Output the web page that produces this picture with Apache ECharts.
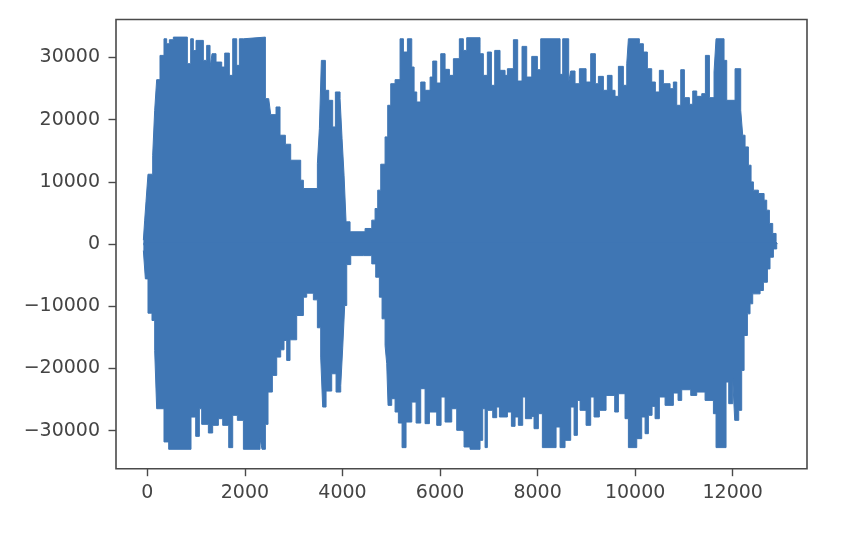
<!DOCTYPE html>
<html><head><meta charset="utf-8">
<style>html,body{margin:0;padding:0;background:#fff}#c{width:852px;height:536px;filter:blur(0.45px)}</style>
<script src="https://cdn.jsdelivr.net/npm/echarts@6/dist/echarts.min.js"></script>
</head><body><div id="c"></div>
<script>
const upperX=[-83,-56,-29,12,108,149,190,258,340,395,450,532,819,887,942,997,1147,1215,1284,1325,1407,1523,1585,1680,1749,1831,1885,1968,2419,2487,2528,2637,2719,2829,2938,3143,3198,3485,3526,3567,3649,3717,3799,3854,3950,3991,4032,4073,4155,4463,4600,4668,4722,4784,4873,4927,4989,5078,5180,5249,5331,5420,5468,5522,5604,5693,5796,5850,5932,6014,6103,6192,6274,6396,6478,6547,6820,6888,6970,7053,7121,7230,7333,7381,7504,7592,7681,7777,7880,7996,8064,8461,8515,8638,8679,8768,8857,8994,9089,9185,9247,9349,9431,9527,9588,9657,9759,9828,9862,10087,10169,10251,10340,10415,10497,10579,10716,10784,10853,10935,11010,11113,11181,11263,11366,11441,11523,11618,11659,11823,11878,12049,12165,12206,12254,12322,12377,12425,12527,12644,12698,12753,12821,12890,12917];
const upperY=[640,3850,6790,11230,14280,21500,26430,30330,33000,32200,32850,33270,29000,33000,31100,32740,29530,31940,28460,30600,29260,28460,30700,27120,33000,28730,33000,33270,23380,23110,20810,22040,17500,16050,13480,10270,8930,12940,18560,29530,24720,23110,18830,24450,23380,16960,11070,3580,1980,2510,3850,5720,8670,12840,17230,22310,25780,26430,33000,30870,33000,28460,24450,22840,26050,24720,26850,29420,25890,30600,28090,27120,29800,33000,31130,33170,30600,27120,30870,25520,31130,27930,27120,28190,32850,26210,31780,26850,30170,28030,33000,27280,33000,26050,27820,25780,28190,26050,30600,25780,26960,24720,27120,24720,23750,28570,25520,28990,33000,32200,30870,28190,26050,24450,27930,25780,24980,26050,22310,28030,23540,22470,24610,23750,24180,30330,23540,27660,33000,29530,23110,28190,21500,17500,15620,12680,10000,8670,8130,7060,5450,3320,1710,370,0];
const lowerX=[-83,-42,12,94,149,190,340,436,894,990,1065,1113,1250,1338,1455,1544,1667,1749,1844,1968,2309,2350,2419,2473,2562,2651,2733,2801,2856,2924,3061,3198,3266,3403,3485,3553,3594,3663,3779,3868,3964,4005,4045,4087,4169,4428,4600,4681,4756,4811,4873,4907,4934,5009,5078,5146,5221,5303,5420,5509,5604,5693,5782,5932,6021,6103,6240,6342,6444,6492,6615,6820,6875,6923,6970,7080,7162,7217,7381,7463,7538,7606,7695,7750,7880,7927,8016,8098,8379,8461,8563,8679,8748,8816,8871,8994,9089,9158,9267,9404,9581,9657,9793,9862,10033,10135,10204,10272,10347,10409,10497,10614,10784,10880,10955,11140,11263,11434,11605,11659,11864,11919,12001,12042,12124,12185,12234,12302,12356,12411,12562,12630,12712,12766,12835,12903];
const lowerY=[-1040,-5590,-11100,-12280,-17090,-26460,-31800,-32980,-27800,-30900,-26460,-28970,-30360,-29130,-28060,-29130,-32715,-27520,-28330,-32980,-31270,-32980,-28970,-23780,-21100,-18160,-16990,-15490,-18700,-15380,-11480,-8530,-7890,-8960,-13450,-18160,-26190,-23620,-20840,-23780,-22710,-16560,-9870,-3290,-1850,-1850,-3180,-5320,-8530,-12010,-16290,-19230,-25920,-24850,-26990,-28760,-32715,-28600,-25390,-28760,-23240,-28860,-26990,-29130,-24580,-28600,-26460,-29930,-30040,-32610,-32980,-31540,-26460,-32710,-26720,-27900,-26190,-27790,-26990,-29290,-27790,-29130,-24580,-28060,-27690,-29670,-27260,-32710,-29400,-32710,-31540,-26190,-30740,-25120,-26720,-29130,-24580,-27790,-26720,-24320,-26990,-24050,-28060,-32710,-31270,-27790,-30470,-27520,-26080,-28060,-24580,-25920,-23940,-25120,-23410,-24320,-23780,-25120,-27260,-32710,-22170,-25650,-21640,-28330,-26720,-20300,-14690,-11210,-9600,-8000,-7460,-6130,-3990,-2110,-780,0];
const xTicks=[0,2000,4000,6000,8000,10000,12000];
const yTicks=[-30000,-20000,-10000,0,10000,20000,30000];
const xRange=[-644,13524];
const yRange=[-36100,36100];

const pairs=(xs,ys)=>xs.map((x,i)=>[x,ys[i]]);
const BLUE='#3f76b4', INK='#444', FRAME='#4a4a4a';
const mk=(xs,ys,origin)=>({type:'line',step:'end',data:pairs(xs,ys),showSymbol:false,silent:true,animation:false,
  lineStyle:{color:BLUE,width:1},areaStyle:{color:BLUE,opacity:1,origin:origin}});
const axisCommon=(t,margin)=>({
  axisLine:{show:false,onZero:false},splitLine:{show:false},
  axisTick:{show:true,length:7.5,lineStyle:{color:FRAME,width:1.4},customValues:t},
  axisLabel:{customValues:t,color:INK,fontFamily:'"DejaVu Sans"',fontSize:19,margin:margin,
    formatter:v=>String(v).replace('-','\u2212')}
});
const chart=echarts.init(document.getElementById('c'),null,{renderer:'canvas'});
chart.setOption({
  animation:false,
  grid:{left:116,top:19.5,width:691,height:449.2,show:true,borderColor:FRAME,borderWidth:1.6,backgroundColor:'#fff'},
  xAxis:Object.assign({type:'value',min:xRange[0],max:xRange[1]},axisCommon(xTicks,15)),
  yAxis:Object.assign({type:'value',min:yRange[0],max:yRange[1]},axisCommon(yTicks,16)),
  series:[mk(upperX,upperY,-200),mk(lowerX,lowerY,200)]
});
</script></body></html>
